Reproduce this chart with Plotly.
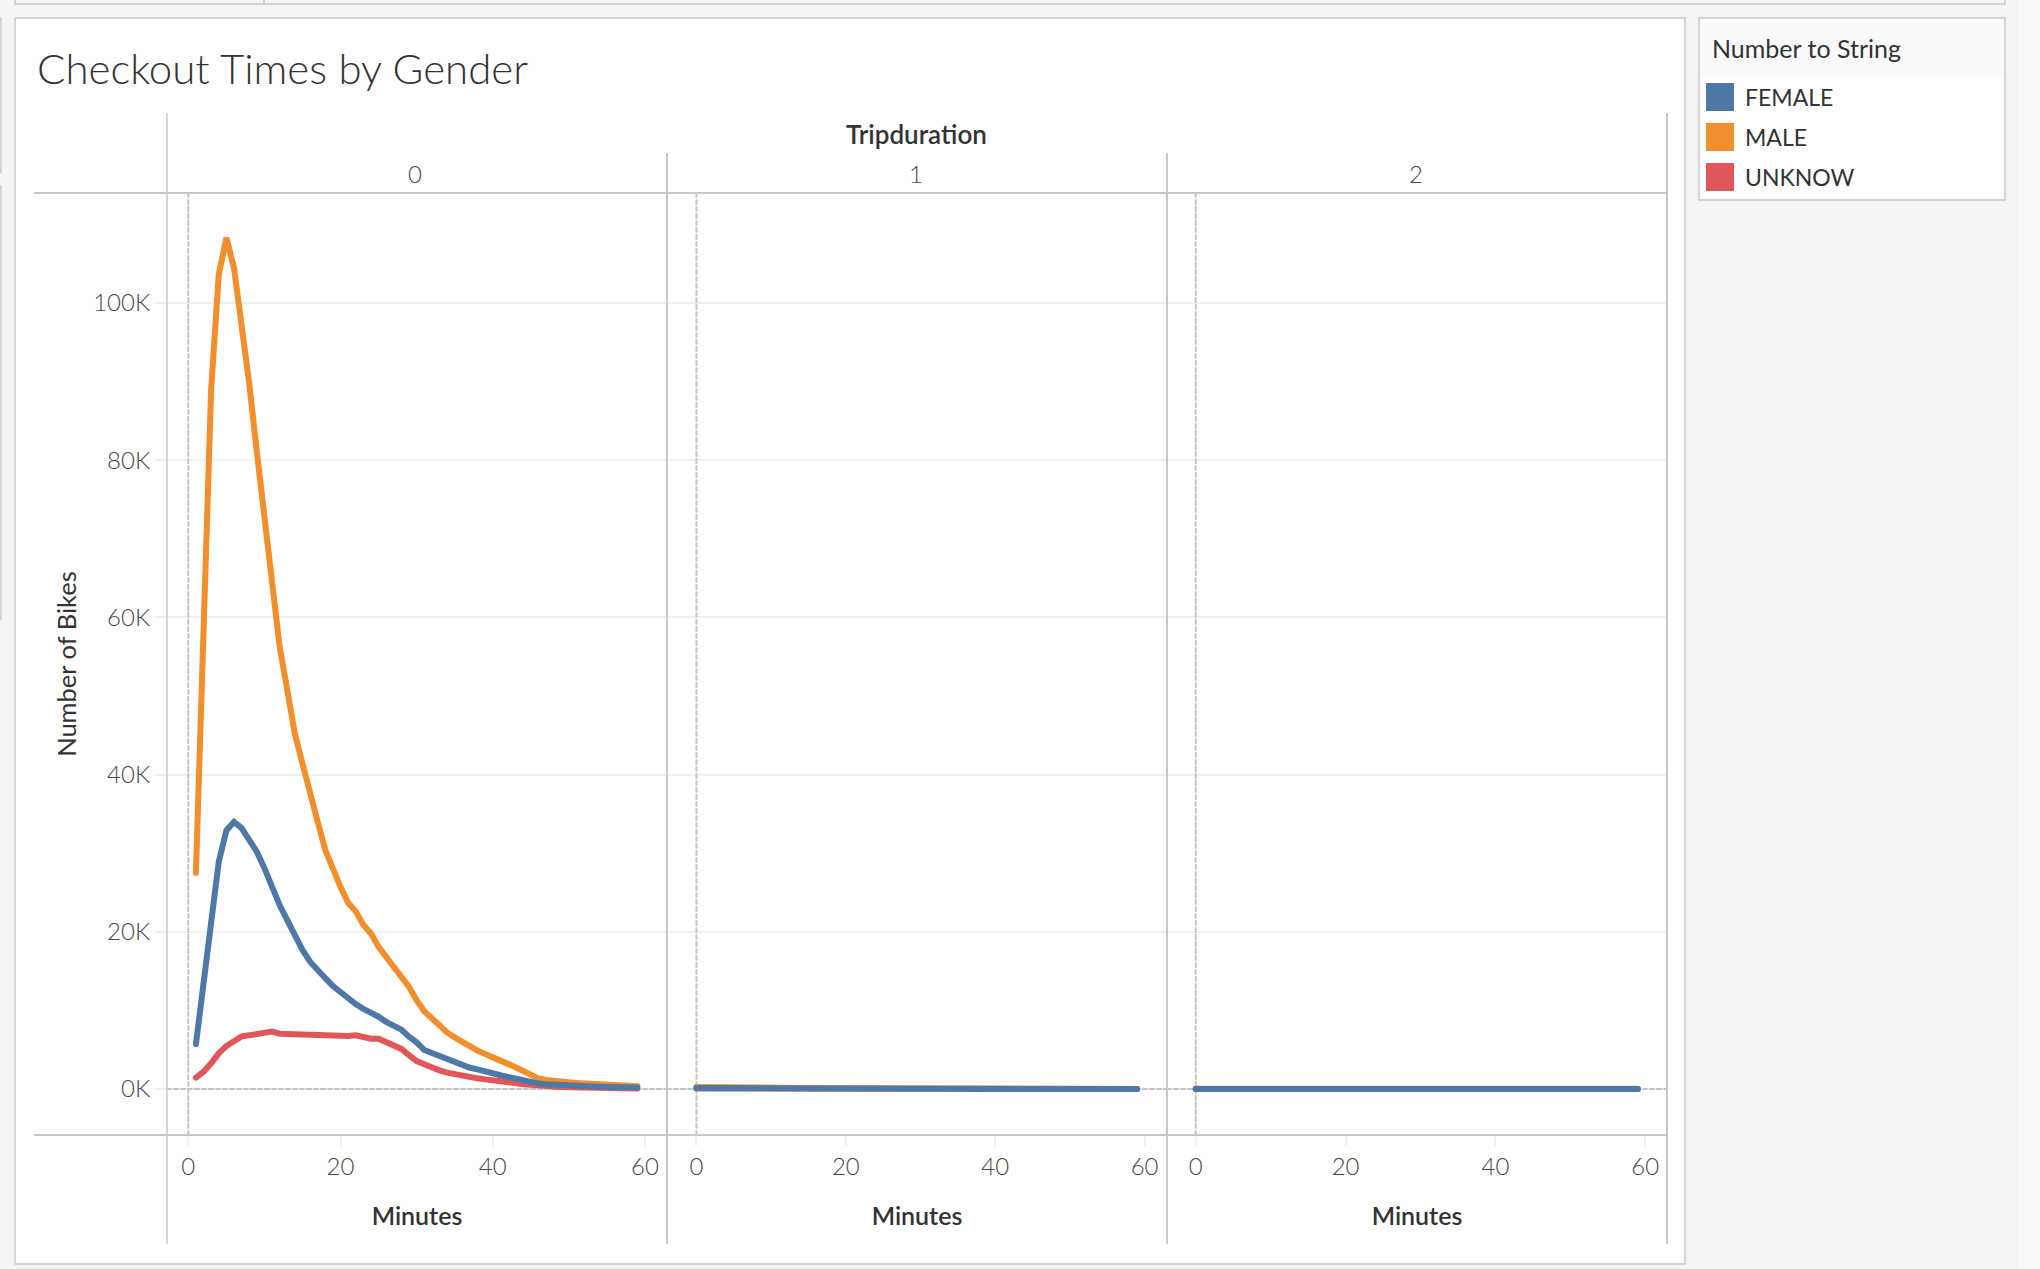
import plotly.graph_objects as go
from plotly.subplots import make_subplots

WIDTH = 2040
HEIGHT = 1269
# plot area in page pixels
LEFT, RIGHT, TOP, BOTTOM = 167, 1667, 193, 1135

FONT = "Lato"
BLUE = "#4e79a7"
ORANGE = "#f28e2b"
RED = "#e15759"
RULE = "#c8c8c8"
BORDER = "#d4d4d4"
GRID = "#f0f0f0"
TICK_TEXT = "#484848"

panels = ["0", "1", "2"]
genders = ["FEMALE", "MALE", "UNKNOW"]
y_ticks = [0, 20, 40, 60, 80, 100]
y_tick_labels = ["0K", "20K", "40K", "60K", "80K", "100K"]
x_ticks = [0, 20, 40, 60]

minutes_0 = list(range(1, 60))
minutes_rest = list(range(0, 60))

# thousands of bikes
female_0 = [5.7, 13.6, 21.9, 28.9, 32.9, 34.0, 33.2, 31.7, 30.2, 28.1,
            25.7, 23.4, 21.5, 19.4, 17.7, 16.2, 15.05, 14.1, 13.1, 12.3,
            11.7, 10.8, 10.2, 9.75, 9.2, 8.55, 8.1, 7.55, 6.66, 5.94,
            4.96, 4.6, 4.1, 3.7, 3.35, 3.05, 2.7, 2.5, 2.2, 2.0,
            1.75, 1.55, 1.35, 1.0, 0.85, 0.7, 0.62, 0.55, 0.5, 0.45,
            0.42, 0.38, 0.34, 0.3, 0.27, 0.24, 0.22, 0.2, 0.18]
male_0 = [27.5, 56.0, 89.0, 103.6, 108.3, 104.5, 97.8, 89.8, 81.1, 72.5,
          64.3, 56.3, 50.8, 45.2, 41.4, 37.4, 34.0, 30.4, 27.8, 25.7,
          23.7, 22.6, 20.9, 19.8, 18.1, 16.8, 15.8, 14.3, 13.0, 11.3,
          9.9, 9.0, 8.06, 7.2, 6.57, 5.94, 5.4, 4.88, 4.45, 4.1,
          3.56, 3.2, 2.76, 2.3, 1.7, 1.36, 1.15, 1.0, 0.93, 0.85,
          0.78, 0.72, 0.66, 0.62, 0.58, 0.54, 0.5, 0.44, 0.35]
unknown_0 = [1.44, 2.2, 3.27, 4.54, 5.47, 6.1, 6.7, 6.83, 7.04, 7.17,
             7.3, 7.04, 7.0, 6.9, 7.04, 6.9, 6.95, 6.87, 6.8, 6.74,
             6.74, 6.83, 6.53, 6.4, 6.4, 5.94, 5.47, 5.1, 4.3, 3.56,
             3.14, 2.7, 2.37, 2.08, 1.87, 1.7, 1.48, 1.36, 1.23, 1.15,
             1.05, 0.93, 0.76, 0.6, 0.5, 0.42, 0.35, 0.3, 0.26, 0.22,
             0.2, 0.18, 0.16, 0.14, 0.12, 0.11, 0.1, 0.09, 0.08]

female_1 = [0.12, 0.11, 0.1, 0.1, 0.09, 0.09, 0.08, 0.08, 0.07, 0.07,
            0.06, 0.06, 0.06, 0.05, 0.05, 0.05, 0.04, 0.04, 0.04, 0.04,
            0.03, 0.03, 0.03, 0.03, 0.03, 0.03, 0.02, 0.02, 0.02, 0.02,
            0.02, 0.02, 0.02, 0.02, 0.02, 0.02, 0.01, 0.01, 0.01, 0.01,
            0.01, 0.01, 0.01, 0.01, 0.01, 0.01, 0.01, 0.01, 0.01, 0.01,
            0.01, 0.01, 0.01, 0.01, 0.01, 0.01, 0.01, 0.01, 0.01, 0.01]
male_1 = [0.26, 0.24, 0.22, 0.21, 0.2, 0.19, 0.18, 0.17, 0.16, 0.15,
          0.14, 0.14, 0.13, 0.12, 0.12, 0.11, 0.11, 0.1, 0.1, 0.09,
          0.09, 0.09, 0.08, 0.08, 0.08, 0.07, 0.07, 0.07, 0.06, 0.06,
          0.06, 0.05, 0.05, 0.05, 0.05, 0.04, 0.04, 0.04, 0.04, 0.03,
          0.03, 0.03, 0.03, 0.03, 0.03, 0.02, 0.02, 0.02, 0.02, 0.02,
          0.02, 0.02, 0.02, 0.01, 0.01, 0.01, 0.01, 0.01, 0.01, 0.01]
unknown_1 = [0.07, 0.07, 0.06, 0.06, 0.05, 0.05, 0.05, 0.04, 0.04, 0.04,
             0.04, 0.03, 0.03, 0.03, 0.03, 0.03, 0.03, 0.02, 0.02, 0.02,
             0.02, 0.02, 0.02, 0.02, 0.02, 0.02, 0.01, 0.01, 0.01, 0.01,
             0.01, 0.01, 0.01, 0.01, 0.01, 0.01, 0.01, 0.01, 0.01, 0.01,
             0.01, 0.01, 0.01, 0.01, 0.01, 0.01, 0.01, 0.01, 0.01, 0.01,
             0.01, 0.01, 0.01, 0.01, 0.01, 0.01, 0.01, 0.01, 0.01, 0.01]

female_2 = [0.01] * 60
male_2 = [0.02] * 60
unknown_2 = [0.01] * 60

# tableau gives each pane its own x scale here
x_ranges = [[-2.8, 62.9], [-3.94, 63.0], [-3.83, 62.9]]
y_range = [-5.85, 114.0]


def px(x):
    return (x - LEFT) / (RIGHT - LEFT)


def py(y):
    return (BOTTOM - y) / (BOTTOM - TOP)


def rect(x0, y0, x1, y1, fill, line=None, layer="below"):
    return dict(type="rect", xref="paper", yref="paper", x0=px(x0), x1=px(x1), y0=py(y0), y1=py(y1),
                fillcolor=fill, line=dict(color=line or fill, width=2 if line else 0), layer=layer)


def rule(x0, y0, x1, y1, color=RULE, width=1.5):
    return dict(type="line", xref="paper", yref="paper", x0=px(x0), x1=px(x1), y0=py(y0), y1=py(y1),
                line=dict(color=color, width=width), layer="above")


def label(text, x, y, size, color="#333333", anchor="center", weight=None):
    return dict(text=text, xref="paper", yref="paper", x=px(x), y=py(y), showarrow=False,
                xanchor=anchor, yanchor="middle",
                font=dict(family=FONT, size=size, color=color, weight=weight))


fig = make_subplots(rows=1, cols=3, shared_yaxes=True, horizontal_spacing=0)

fig.update_layout(shapes=[
    rect(2018, 0, 2040, HEIGHT, "#fafafa"),
    rect(15, -10, 2005, 4, "#f4f4f4", BORDER),
    rule(264, 0, 264, 4, BORDER, 2),
    rect(0, 17, 2, 173, BORDER),
    rect(0, 185, 2, 620, BORDER),
    rect(15, 18, 1685, 1264, "white", BORDER),
    # legend box
    rect(1699, 18, 2005, 200, "white", BORDER),
    rect(1700, 19, 2004, 77, "#fafafa"),
    rect(1706, 83, 1734, 111, BLUE),
    rect(1706, 123, 1734, 151, ORANGE),
    rect(1706, 163, 1734, 191, RED),
    # pane rules
    rule(34, TOP, RIGHT, TOP, RULE, 2),
    rule(34, BOTTOM, RIGHT, BOTTOM, RULE, 2),
    rule(LEFT, 113, LEFT, 1244),
    rule(667, 153, 667, 1244, RULE, 2),
    rule(1167, 153, 1167, 1244, RULE, 2),
    rule(RIGHT, 113, RIGHT, 1244, RULE, 2),
])

pane_data = [
    (minutes_0, female_0, male_0, unknown_0),
    (minutes_rest, female_1, male_1, unknown_1),
    (minutes_rest, female_2, male_2, unknown_2),
]
for col, (mins, female, male, unknown) in enumerate(pane_data, start=1):
    # dashed zero lines as traces, shapes end up under the gridline
    zero_line = dict(color="#c4c4c4", width=2, dash="4px,3px")
    fig.add_trace(go.Scatter(x=x_ranges[col - 1], y=[0, 0], mode="lines", showlegend=False, hoverinfo="skip",
                             line=zero_line), row=1, col=col)
    fig.add_trace(go.Scatter(x=[0, 0], y=y_range, mode="lines", showlegend=False, hoverinfo="skip",
                             line=zero_line), row=1, col=col)
    # blue sits on top, same as the original
    for name, vals, color in [("UNKNOW", unknown, RED), ("MALE", male, ORANGE), ("FEMALE", female, BLUE)]:
        fig.add_trace(go.Scatter(x=mins, y=vals, mode="lines", name=name, showlegend=False,
                                 line=dict(color=color, width=6)), row=1, col=col)

    fig.update_xaxes(row=1, col=col, range=x_ranges[col - 1], tickvals=x_ticks, ticks="outside", ticklen=10,
                     tickwidth=1.5, tickcolor=GRID, showgrid=False, zeroline=False, showline=False,
                     ticklabelstandoff=0, tickfont=dict(family=FONT, size=24, color=TICK_TEXT, weight=300),
                     title=dict(text="Minutes", standoff=28,
                                font=dict(family=FONT, size=25, color="#333333", weight=600)))

fig.update_yaxes(range=y_range, tickvals=y_ticks, ticktext=y_tick_labels, ticks="", showgrid=True, gridcolor=GRID,
                 gridwidth=2, zeroline=False, showline=False)
fig.update_yaxes(row=1, col=1, ticks="outside", ticklen=11, tickwidth=2, tickcolor=GRID,
                 tickfont=dict(family=FONT, size=24, color=TICK_TEXT, weight=300),
                 title=dict(text="Number of Bikes", standoff=9,
                            font=dict(family=FONT, size=25.5, color="#333333")))

annotations = [
    label("Checkout Times by Gender", 35, 68, 42, "#333333", "left", 300),
    label("Tripduration", 916, 134, 26, "#333333", "center", 600),
    label(panels[0], 415, 174, 24, TICK_TEXT, "center", 300),
    label(panels[1], 916, 174, 24, TICK_TEXT, "center", 300),
    label(panels[2], 1416, 174, 24, TICK_TEXT, "center", 300),
    label("Number to String", 1710, 48, 25, "#333333", "left"),
    label(genders[0], 1743, 97, 23, "#333333", "left"),
    label(genders[1], 1743, 137, 23, "#333333", "left"),
    label(genders[2], 1743, 177, 23, "#333333", "left"),
]

fig.update_layout(
    width=WIDTH,
    height=HEIGHT,
    margin=dict(l=LEFT, r=WIDTH - RIGHT, t=TOP, b=HEIGHT - BOTTOM, pad=0),
    paper_bgcolor="#f4f4f4",
    plot_bgcolor="rgba(0,0,0,0)",
    showlegend=False,
    annotations=annotations,
)

# browser default body margin would push the whole chart 8px in
fig.write_html("out.html", config={"displayModeBar": False},
               post_script="document.body.style.margin='0';document.querySelectorAll('.js-line').forEach(function(l){l.style.strokeLinecap='round';});")
